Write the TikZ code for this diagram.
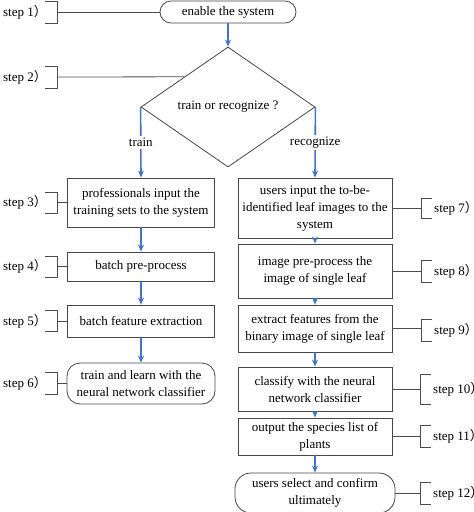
\documentclass[tikz,border=0pt]{standalone}
\usepackage{fontspec}
\setmainfont{Liberation Serif}
\newfontfamily\cjk{Noto Sans CJK SC}
\usetikzlibrary{arrows.meta,shapes.geometric}
\definecolor{flowblue}{RGB}{68,114,196}
\definecolor{boxdraw}{RGB}{70,70,70}
\colorlet{linkdraw}{black!70}
\newcommand{\stepparen}{\makebox[6pt][l]{\cjk ）}}

\begin{document}
\begin{tikzpicture}[x=1pt,y=-1pt,every node/.style={font=\fontsize{13}{17}\selectfont},
    box/.style={draw=boxdraw,line width=.8pt,align=center,inner sep=2pt},
    term/.style={box,rounded corners=11pt},
    flow/.style={-{Stealth[length=7pt,width=6pt]},flowblue,line width=1.6pt},
    branch/.style={fill=white,text=black,inner sep=2pt},
    link/.style={linkdraw,line width=.8pt},
    steptxt/.style={inner sep=0pt}]
    \useasboundingbox (0,0) rectangle (474,512);
    % flow chart
    \node[term,minimum width=136pt,minimum height=22pt] (start) at (228,12) {enable the system};
    \node[box,diamond,shape aspect=1.45,inner sep=1pt,minimum width=174pt,minimum height=120pt] (dec) at (228,107) {train or recognize ?};
    \node[box,minimum width=147pt,minimum height=49pt] (b3) at (141,202.5) {professionals input the\\training sets to the system};
    \node[box,minimum width=147pt,minimum height=29pt] (b4) at (141,266.5) {batch pre-process};
    \node[box,minimum width=147pt,minimum height=32pt] (b5) at (141,321) {batch feature extraction};
    \node[box,rounded corners=13pt,minimum width=148pt,minimum height=41pt] (b6) at (141,383.5) {train and learn with the\\neural network classifier};
    \node[box,minimum width=154pt,minimum height=60pt] (b7) at (315,208) {users input the to-be-\\identified leaf images to the\\system};
    \node[box,minimum width=154pt,minimum height=54pt] (b8) at (315,271) {image pre-process the\\image of single leaf};
    \node[box,minimum width=154pt,minimum height=47pt] (b9) at (315,328.5) {extract features from the\\binary image of single leaf};
    \node[box,minimum width=154pt,minimum height=44pt] (b10) at (315,389) {classify with the neural\\network classifier};
    \node[box,minimum width=154pt,minimum height=37pt] (b11) at (315,436.5) {output the species list of\\plants};
    \node[box,rounded corners=16pt,minimum width=160pt,minimum height=40pt] (b12) at (315,493) {users select and confirm\\ultimately};
    \draw[flow] (start.south)--(dec.north);
    \draw[flow] (dec.west)--node[branch]{train} (b3.north);
    \draw[flow] (dec.east)--node[branch]{recognize} (b7.north);
    \draw[flow] (b3.south)--(b4.north);
    \draw[flow] (b4.south)--(b5.north);
    \draw[flow] (b5.south)--(b6.north);
    \draw[flow] (b7.south)--(b8.north);
    \draw[flow] (b8.south)--(b9.north);
    \draw[flow] (b9.south)--(b10.north);
    \draw[flow] (b10.south)--(b11.north);
    \draw[flow] (b11.south)--(b12.north);
    % step marks, left
    \coordinate (k1) at (57,12);
    \coordinate (k2) at (57,77);
    \coordinate (k3) at (57,202.5);
    \coordinate (k4) at (57,266.5);
    \coordinate (k5) at (57,321);
    \coordinate (k6) at (57,383.5);
    \draw[link] (k1) ++(-12,-11) -| ++(12,22) -- ++(-12,0);
    \draw[link] (k2) ++(-12,-11) -| ++(12,22) -- ++(-12,0);
    \draw[link] (k3) ++(-12,-10.5) -| ++(12,21) -- ++(-12,0);
    \draw[link] (k4) ++(-12,-10.5) -| ++(12,21) -- ++(-12,0);
    \draw[link] (k5) ++(-12,-10.5) -| ++(12,21) -- ++(-12,0);
    \draw[link] (k6) ++(-12,-11) -| ++(12,22) -- ++(-12,0);
    \draw[link] (k1)--(start.west);
    \draw[link] (k2)--(dec.north west);
    \draw[link] (k3)--(b3.west);
    \draw[link] (k4)--(b4.west);
    \draw[link] (k5)--(b5.west);
    \draw[link] (k6)--(b6.west);
    \node[steptxt,anchor=east] (t1) at (40,12) {step 1\stepparen};
    \node[steptxt,anchor=east] (t2) at (40,77) {step 2\stepparen};
    \node[steptxt,anchor=east] (t3) at (40,202.5) {step 3\stepparen};
    \node[steptxt,anchor=east] (t4) at (40,266.5) {step 4\stepparen};
    \node[steptxt,anchor=east] (t5) at (40,321) {step 5\stepparen};
    \node[steptxt,anchor=east] (t6) at (40,383.5) {step 6\stepparen};
    % step marks, right
    \coordinate (k7) at (421,208);
    \coordinate (k8) at (421,271);
    \coordinate (k9) at (421,330);
    \coordinate (k10) at (420,389);
    \coordinate (k11) at (420,436.5);
    \coordinate (k12) at (420,493);
    \draw[link] (k7) ++(11,-10) -| ++(-11,20) -- ++(11,0);
    \draw[link] (k8) ++(11,-11) -| ++(-11,22) -- ++(11,0);
    \draw[link] (k9) ++(11,-11) -| ++(-11,22) -- ++(11,0);
    \draw[link] (k10) ++(11,-15) -| ++(-11,30) -- ++(11,0);
    \draw[link] (k11) ++(11,-11) -| ++(-11,22) -- ++(11,0);
    \draw[link] (k12) ++(11,-11) -| ++(-11,22) -- ++(11,0);
    \draw[link] (b7.east)--(k7);
    \draw[link] (b8.east)--(k8);
    \draw[link] (b9.east)--(b9.east-|k9);
    \draw[link] (b10.east)--(k10);
    \draw[link] (b11.east)--(k11);
    \draw[link] (b12.east)--(k12);
    \node[steptxt,anchor=west] (t7) at (434,208) {step 7\stepparen};
    \node[steptxt,anchor=west] (t8) at (434,271) {step 8\stepparen};
    \node[steptxt,anchor=west] (t9) at (434,330) {step 9\stepparen};
    \node[steptxt,anchor=west] (t10) at (433,389) {step 10\stepparen};
    \node[steptxt,anchor=west] (t11) at (433,436.5) {step 11\stepparen};
    \node[steptxt,anchor=west] (t12) at (433,493) {step 12\stepparen};
\end{tikzpicture}
\end{document}
